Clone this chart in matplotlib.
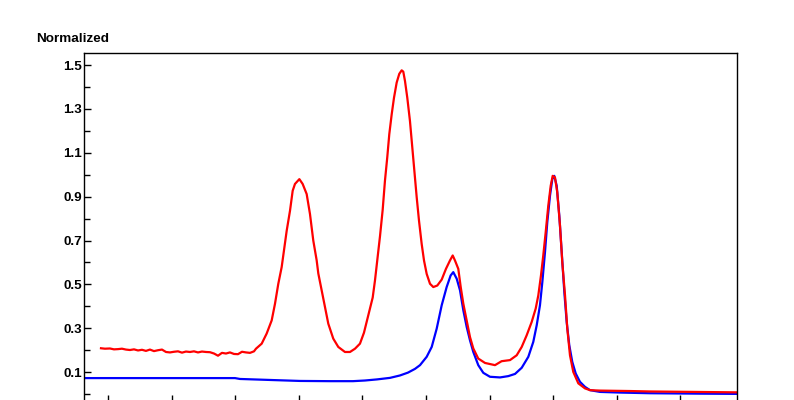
import matplotlib
matplotlib.use('Agg')
import matplotlib.pyplot as plt

# red trace (sample), x in arbitrary units, y normalized
red_x = [-1.10, -0.47, 0.31, 0.94, 1.57, 2.20, 2.83, 3.46, 4.09, 4.72,
         5.35, 5.97, 6.60, 7.23, 7.86, 8.49, 9.12, 9.75, 10.38, 11.01,
         11.64, 12.26, 12.89, 13.52, 14.15, 14.78, 15.41, 16.04, 16.67, 17.30,
         17.92, 18.55, 19.18, 19.81, 20.44, 21.07, 21.70, 22.33, 22.96, 23.27,
         24.17, 24.95, 25.74, 26.26, 26.78, 27.31, 27.67, 28.10, 28.62, 29.04,
         29.40, 30.09, 30.61, 31.24, 31.76, 32.28, 32.81, 33.07, 33.60, 34.12,
         34.64, 35.42, 36.21, 37.26, 38.05, 38.84, 39.62, 40.25, 40.80, 41.62,
         41.98, 42.34, 42.77, 43.19, 43.55, 43.91, 44.23, 44.61, 44.97, 45.39,
         45.80, 46.18, 46.43, 46.70, 47.06, 47.48, 47.85, 48.16, 48.54, 48.90,
         49.32, 49.69, 50.11, 50.63, 51.15, 51.78, 52.47, 53.14, 53.77, 54.20,
         54.56, 55.08, 55.46, 55.87, 56.40, 56.92, 57.44, 58.22, 59.28, 60.85,
         61.89, 63.21, 64.26, 65.05, 65.83, 66.62, 67.25, 67.66, 68.08, 68.44,
         68.82, 69.23, 69.61, 69.92, 70.28, 70.64, 71.07, 71.43, 71.86, 72.22,
         72.64, 73.16, 73.95, 75.00, 75.79, 77.36, 79.72, 82.08, 85.22, 88.36,
         91.51, 94.65, 98.90]
red_y = [0.209, 0.207, 0.208, 0.204, 0.205, 0.207, 0.203, 0.201, 0.204, 0.199,
         0.202, 0.197, 0.203, 0.196, 0.200, 0.203, 0.192, 0.190, 0.193, 0.195,
         0.189, 0.194, 0.192, 0.195, 0.190, 0.194, 0.192, 0.191, 0.185, 0.175,
         0.188, 0.185, 0.190, 0.183, 0.182, 0.193, 0.190, 0.188, 0.195, 0.207,
         0.230, 0.276, 0.336, 0.412, 0.503, 0.579, 0.655, 0.745, 0.836, 0.927,
         0.958, 0.980, 0.958, 0.912, 0.821, 0.700, 0.610, 0.550, 0.473, 0.397,
         0.321, 0.253, 0.215, 0.192, 0.192, 0.207, 0.230, 0.280, 0.345, 0.440,
         0.518, 0.609, 0.720, 0.840, 0.973, 1.079, 1.185, 1.276, 1.351, 1.420,
         1.460, 1.476, 1.470, 1.427, 1.351, 1.245, 1.124, 1.018, 0.897, 0.791,
         0.685, 0.609, 0.548, 0.503, 0.488, 0.495, 0.522, 0.571, 0.609, 0.632,
         0.609, 0.571, 0.488, 0.412, 0.336, 0.260, 0.208, 0.162, 0.142, 0.132,
         0.150, 0.155, 0.177, 0.215, 0.268, 0.329, 0.390, 0.450, 0.541, 0.632,
         0.738, 0.859, 0.950, 0.995, 0.988, 0.920, 0.768, 0.601, 0.450, 0.298,
         0.177, 0.101, 0.049, 0.026, 0.018, 0.016, 0.015, 0.014, 0.012, 0.011,
         0.010, 0.009, 0.008]

# blue trace (reference)
blue_x = [-3.77, 6.60, 14.47, 19.97, 20.75, 23.90, 25.94, 30.19, 34.91, 38.52,
          40.41, 42.30, 44.34, 45.91, 47.17, 48.27, 49.06, 50.11, 50.90, 51.68,
          52.47, 53.25, 53.88, 54.29, 54.83, 55.35, 55.87, 56.40, 56.92, 57.44,
          58.22, 59.01, 60.06, 61.64, 62.94, 64.00, 65.05, 66.09, 66.87, 67.41,
          67.92, 68.29, 68.71, 69.07, 69.50, 69.86, 70.17, 70.55, 70.96, 71.34,
          71.75, 72.12, 72.53, 73.00, 73.54, 74.21, 75.00, 75.79, 77.36, 80.50,
          85.22, 93.08, 98.90]
blue_y = [0.073, 0.073, 0.073, 0.073, 0.069, 0.066, 0.064, 0.060, 0.059, 0.059,
          0.062, 0.067, 0.074, 0.085, 0.098, 0.115, 0.132, 0.170, 0.215, 0.298,
          0.405, 0.488, 0.541, 0.556, 0.526, 0.473, 0.382, 0.306, 0.245, 0.192,
          0.132, 0.097, 0.079, 0.076, 0.082, 0.092, 0.120, 0.170, 0.238, 0.314,
          0.405, 0.510, 0.647, 0.783, 0.905, 0.980, 0.995, 0.950, 0.814, 0.647,
          0.465, 0.329, 0.223, 0.147, 0.094, 0.056, 0.033, 0.018, 0.010, 0.007,
          0.004, 0.002, 0.001]

x_ticks = [0, 10, 20, 30, 40, 50, 60, 70, 80, 90]
y_major = [0.1, 0.3, 0.5, 0.7, 0.9, 1.1, 1.3, 1.5]
y_minor = [0.0, 0.2, 0.4, 0.6, 0.8, 1.0, 1.2, 1.4]

plt.rcParams['font.family'] = ['Liberation Sans', 'DejaVu Sans']

fig = plt.figure(figsize=(7.94, 4.0), dpi=100)
ax = fig.add_axes([84 / 794, -2 / 400, 653 / 794, 349 / 400])

ax.plot(blue_x, blue_y, color='#0000ff', lw=1.6)
ax.plot(red_x, red_y, color='#ff0000', lw=1.6)

ax.set_xlim(-3.77, 98.9)
ax.set_ylim(-0.036, 1.555)

ax.set_xticks(x_ticks)
ax.set_xticklabels([])
ax.set_yticks(y_major)
ax.set_yticklabels(['%.1f' % v for v in y_major], fontsize=9.7, fontweight='bold')
ax.set_yticks(y_minor, minor=True)
ax.tick_params(axis='both', which='both', direction='in', width=1, color='black')
ax.tick_params(axis='y', which='major', length=5, pad=1.5)
ax.tick_params(axis='y', which='minor', length=4)
ax.tick_params(axis='x', which='major', length=5)
for s in ax.spines.values():
    s.set_linewidth(1.0)

fig.text(36 / 794, 1 - 42.5 / 400, 'Normalized', fontsize=9.7, fontweight='bold',
         va='baseline', ha='left')

fig.savefig('out.png', dpi=100)
